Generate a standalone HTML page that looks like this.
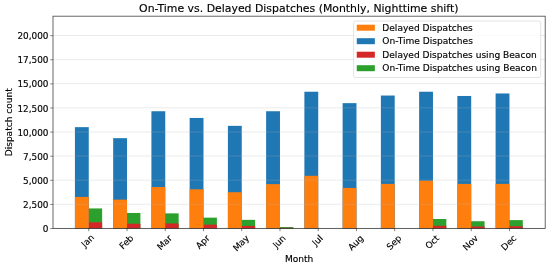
<!DOCTYPE html>
<html><head><meta charset="utf-8"><title>On-Time vs. Delayed Dispatches</title>
<style>html,body{margin:0;padding:0;background:#fff}body{width:550px;height:267px;overflow:hidden}</style></head>
<body>
<svg width="550" height="267" viewBox="0 0 550 267" style="display:block;font-family:'DejaVu Sans','Liberation Sans',sans-serif">
<style>text{stroke:#000;stroke-width:0.15px;stroke-linejoin:round}</style>
<rect width="550" height="267" fill="#fff"/>
<rect x="88.26" y="208.43" width="13.89" height="19.97" fill="#2ca02c"/>
<rect x="88.26" y="222.32" width="13.89" height="6.08" fill="#d62728"/>
<rect x="74.92" y="127.15" width="13.84" height="101.25" fill="#1f77b4"/>
<rect x="74.92" y="196.91" width="13.84" height="31.49" fill="#ff7f0e"/>
<rect x="126.50" y="212.97" width="13.89" height="15.43" fill="#2ca02c"/>
<rect x="126.50" y="223.72" width="13.89" height="4.68" fill="#d62728"/>
<rect x="113.17" y="138.17" width="13.84" height="90.23" fill="#1f77b4"/>
<rect x="113.17" y="199.62" width="13.84" height="28.78" fill="#ff7f0e"/>
<rect x="164.75" y="213.35" width="13.89" height="15.05" fill="#2ca02c"/>
<rect x="164.75" y="223.48" width="13.89" height="4.92" fill="#d62728"/>
<rect x="151.41" y="111.24" width="13.84" height="117.16" fill="#1f77b4"/>
<rect x="151.41" y="187.02" width="13.84" height="41.38" fill="#ff7f0e"/>
<rect x="202.99" y="217.65" width="13.89" height="10.75" fill="#2ca02c"/>
<rect x="202.99" y="224.64" width="13.89" height="3.76" fill="#d62728"/>
<rect x="189.65" y="117.95" width="13.84" height="110.45" fill="#1f77b4"/>
<rect x="189.65" y="189.29" width="13.84" height="39.11" fill="#ff7f0e"/>
<rect x="241.23" y="219.86" width="13.89" height="8.54" fill="#2ca02c"/>
<rect x="241.23" y="225.94" width="13.89" height="2.46" fill="#d62728"/>
<rect x="227.90" y="125.84" width="13.84" height="102.56" fill="#1f77b4"/>
<rect x="227.90" y="192.23" width="13.84" height="36.17" fill="#ff7f0e"/>
<rect x="279.48" y="227.05" width="13.89" height="1.35" fill="#2ca02c"/>
<rect x="279.48" y="227.82" width="13.89" height="0.58" fill="#d62728"/>
<rect x="266.14" y="111.24" width="13.84" height="117.16" fill="#1f77b4"/>
<rect x="266.14" y="184.13" width="13.84" height="44.27" fill="#ff7f0e"/>
<rect x="304.39" y="91.73" width="13.84" height="136.67" fill="#1f77b4"/>
<rect x="304.39" y="175.79" width="13.84" height="52.61" fill="#ff7f0e"/>
<rect x="342.63" y="103.15" width="13.84" height="125.25" fill="#1f77b4"/>
<rect x="342.63" y="187.93" width="13.84" height="40.47" fill="#ff7f0e"/>
<rect x="380.87" y="95.53" width="13.84" height="132.87" fill="#1f77b4"/>
<rect x="380.87" y="183.88" width="13.84" height="44.52" fill="#ff7f0e"/>
<rect x="432.45" y="219.00" width="13.89" height="9.40" fill="#2ca02c"/>
<rect x="432.45" y="225.80" width="13.89" height="2.60" fill="#d62728"/>
<rect x="419.12" y="91.73" width="13.84" height="136.67" fill="#1f77b4"/>
<rect x="419.12" y="180.72" width="13.84" height="47.68" fill="#ff7f0e"/>
<rect x="470.70" y="221.24" width="13.89" height="7.16" fill="#2ca02c"/>
<rect x="470.70" y="226.47" width="13.89" height="1.93" fill="#d62728"/>
<rect x="457.36" y="95.97" width="13.84" height="132.43" fill="#1f77b4"/>
<rect x="457.36" y="183.88" width="13.84" height="44.52" fill="#ff7f0e"/>
<rect x="508.94" y="220.11" width="13.89" height="8.29" fill="#2ca02c"/>
<rect x="508.94" y="226.23" width="13.89" height="2.17" fill="#d62728"/>
<rect x="495.61" y="93.47" width="13.84" height="134.93" fill="#1f77b4"/>
<rect x="495.61" y="183.88" width="13.84" height="44.52" fill="#ff7f0e"/>
<line x1="53.0" x2="545.2" y1="228.40" y2="228.40" stroke="#b0b0b0" stroke-opacity="0.36" stroke-width="0.72"/>
<line x1="53.0" x2="545.2" y1="204.29" y2="204.29" stroke="#b0b0b0" stroke-opacity="0.36" stroke-width="0.72"/>
<line x1="53.0" x2="545.2" y1="180.18" y2="180.18" stroke="#b0b0b0" stroke-opacity="0.36" stroke-width="0.72"/>
<line x1="53.0" x2="545.2" y1="156.06" y2="156.06" stroke="#b0b0b0" stroke-opacity="0.36" stroke-width="0.72"/>
<line x1="53.0" x2="545.2" y1="131.95" y2="131.95" stroke="#b0b0b0" stroke-opacity="0.36" stroke-width="0.72"/>
<line x1="53.0" x2="545.2" y1="107.84" y2="107.84" stroke="#b0b0b0" stroke-opacity="0.36" stroke-width="0.72"/>
<line x1="53.0" x2="545.2" y1="83.72" y2="83.72" stroke="#b0b0b0" stroke-opacity="0.36" stroke-width="0.72"/>
<line x1="53.0" x2="545.2" y1="59.61" y2="59.61" stroke="#b0b0b0" stroke-opacity="0.36" stroke-width="0.72"/>
<line x1="53.0" x2="545.2" y1="35.50" y2="35.50" stroke="#b0b0b0" stroke-opacity="0.36" stroke-width="0.72"/>
<line x1="50.23" x2="53.0" y1="228.55" y2="228.55" stroke="#000" stroke-opacity="0.65" stroke-width="0.72"/>
<text x="48.46" y="232.13" font-size="8.9" text-anchor="end" fill="#000">0</text>
<line x1="50.23" x2="53.0" y1="204.44" y2="204.44" stroke="#000" stroke-opacity="0.65" stroke-width="0.72"/>
<text x="48.46" y="208.02" font-size="8.9" text-anchor="end" fill="#000">2,500</text>
<line x1="50.23" x2="53.0" y1="180.33" y2="180.33" stroke="#000" stroke-opacity="0.65" stroke-width="0.72"/>
<text x="48.46" y="183.91" font-size="8.9" text-anchor="end" fill="#000">5,000</text>
<line x1="50.23" x2="53.0" y1="156.21" y2="156.21" stroke="#000" stroke-opacity="0.65" stroke-width="0.72"/>
<text x="48.46" y="159.79" font-size="8.9" text-anchor="end" fill="#000">7,500</text>
<line x1="50.23" x2="53.0" y1="132.10" y2="132.10" stroke="#000" stroke-opacity="0.65" stroke-width="0.72"/>
<text x="48.46" y="135.68" font-size="8.9" text-anchor="end" fill="#000">10,000</text>
<line x1="50.23" x2="53.0" y1="107.99" y2="107.99" stroke="#000" stroke-opacity="0.65" stroke-width="0.72"/>
<text x="48.46" y="111.57" font-size="8.9" text-anchor="end" fill="#000">12,500</text>
<line x1="50.23" x2="53.0" y1="83.88" y2="83.88" stroke="#000" stroke-opacity="0.65" stroke-width="0.72"/>
<text x="48.46" y="87.46" font-size="8.9" text-anchor="end" fill="#000">15,000</text>
<line x1="50.23" x2="53.0" y1="59.76" y2="59.76" stroke="#000" stroke-opacity="0.65" stroke-width="0.72"/>
<text x="48.46" y="63.34" font-size="8.9" text-anchor="end" fill="#000">17,500</text>
<line x1="50.23" x2="53.0" y1="35.65" y2="35.65" stroke="#000" stroke-opacity="0.65" stroke-width="0.72"/>
<text x="48.46" y="39.23" font-size="8.9" text-anchor="end" fill="#000">20,000</text>
<line x1="88.76" x2="88.76" y1="228.4" y2="231.17" stroke="#000" stroke-opacity="0.7" stroke-width="0.72"/>
<text transform="translate(88.06,241.04) rotate(-45)" x="0" y="2.58" font-size="8.9" text-anchor="middle" fill="#000">Jan</text>
<line x1="127.00" x2="127.00" y1="228.4" y2="231.17" stroke="#000" stroke-opacity="0.7" stroke-width="0.72"/>
<text transform="translate(126.60,242.46) rotate(-45)" x="0" y="2.58" font-size="8.9" text-anchor="middle" fill="#000">Feb</text>
<line x1="165.25" x2="165.25" y1="228.4" y2="231.17" stroke="#000" stroke-opacity="0.7" stroke-width="0.72"/>
<text transform="translate(164.85,242.82) rotate(-45)" x="0" y="2.58" font-size="8.9" text-anchor="middle" fill="#000">Mar</text>
<line x1="203.49" x2="203.49" y1="228.4" y2="231.17" stroke="#000" stroke-opacity="0.7" stroke-width="0.72"/>
<text transform="translate(203.09,242.33) rotate(-45)" x="0" y="2.58" font-size="8.9" text-anchor="middle" fill="#000">Apr</text>
<line x1="241.73" x2="241.73" y1="228.4" y2="231.17" stroke="#000" stroke-opacity="0.7" stroke-width="0.72"/>
<text transform="translate(241.33,243.39) rotate(-45)" x="0" y="2.58" font-size="8.9" text-anchor="middle" fill="#000">May</text>
<line x1="279.98" x2="279.98" y1="228.4" y2="231.17" stroke="#000" stroke-opacity="0.7" stroke-width="0.72"/>
<text transform="translate(279.58,241.80) rotate(-45)" x="0" y="2.58" font-size="8.9" text-anchor="middle" fill="#000">Jun</text>
<line x1="318.22" x2="318.22" y1="228.4" y2="231.17" stroke="#000" stroke-opacity="0.7" stroke-width="0.72"/>
<text transform="translate(317.82,240.68) rotate(-45)" x="0" y="2.58" font-size="8.9" text-anchor="middle" fill="#000">Jul</text>
<line x1="356.47" x2="356.47" y1="228.4" y2="231.17" stroke="#000" stroke-opacity="0.7" stroke-width="0.72"/>
<text transform="translate(356.07,243.03) rotate(-45)" x="0" y="2.58" font-size="8.9" text-anchor="middle" fill="#000">Aug</text>
<line x1="394.71" x2="394.71" y1="228.4" y2="231.17" stroke="#000" stroke-opacity="0.7" stroke-width="0.72"/>
<text transform="translate(394.31,242.82) rotate(-45)" x="0" y="2.58" font-size="8.9" text-anchor="middle" fill="#000">Sep</text>
<line x1="432.95" x2="432.95" y1="228.4" y2="231.17" stroke="#000" stroke-opacity="0.7" stroke-width="0.72"/>
<text transform="translate(432.55,242.33) rotate(-45)" x="0" y="2.58" font-size="8.9" text-anchor="middle" fill="#000">Oct</text>
<line x1="471.20" x2="471.20" y1="228.4" y2="231.17" stroke="#000" stroke-opacity="0.7" stroke-width="0.72"/>
<text transform="translate(470.80,243.03) rotate(-45)" x="0" y="2.58" font-size="8.9" text-anchor="middle" fill="#000">Nov</text>
<line x1="509.44" x2="509.44" y1="228.4" y2="231.17" stroke="#000" stroke-opacity="0.7" stroke-width="0.72"/>
<text transform="translate(509.04,242.98) rotate(-45)" x="0" y="2.58" font-size="8.9" text-anchor="middle" fill="#000">Dec</text>
<rect x="53.0" y="16.2" width="492.20" height="212.20" fill="none" stroke="#000" stroke-opacity="0.7" stroke-width="0.85"/>
<text x="298.80" y="12.35" font-size="10.9" text-anchor="middle" fill="#000">On-Time vs. Delayed Dispatches (Monthly, Nighttime shift)</text>
<text x="299.10" y="262" font-size="9.05" text-anchor="middle" fill="#000">Month</text>
<text transform="translate(12.1,122.25) rotate(-90)" font-size="9.05" text-anchor="middle" fill="#000">Dispatch count</text>
<rect x="353.6" y="21.0" width="187.10" height="56.50" rx="1.8" fill="#fff" fill-opacity="0.8" stroke="#ccc" stroke-opacity="0.7" stroke-width="0.75"/>
<rect x="356.75" y="24.70" width="18.1" height="6.0" fill="#ff7f0e"/>
<text x="382.3" y="30.70" font-size="9.09" fill="#000">Delayed Dispatches</text>
<rect x="356.75" y="38.20" width="18.1" height="6.0" fill="#1f77b4"/>
<text x="382.3" y="44.20" font-size="9.09" fill="#000">On-Time Dispatches</text>
<rect x="356.75" y="51.70" width="18.1" height="6.0" fill="#d62728"/>
<text x="382.3" y="57.70" font-size="9.09" fill="#000">Delayed Dispatches using Beacon</text>
<rect x="356.75" y="65.20" width="18.1" height="6.0" fill="#2ca02c"/>
<text x="382.3" y="71.20" font-size="9.09" fill="#000">On-Time Dispatches using Beacon</text>
</svg>
</body></html>
